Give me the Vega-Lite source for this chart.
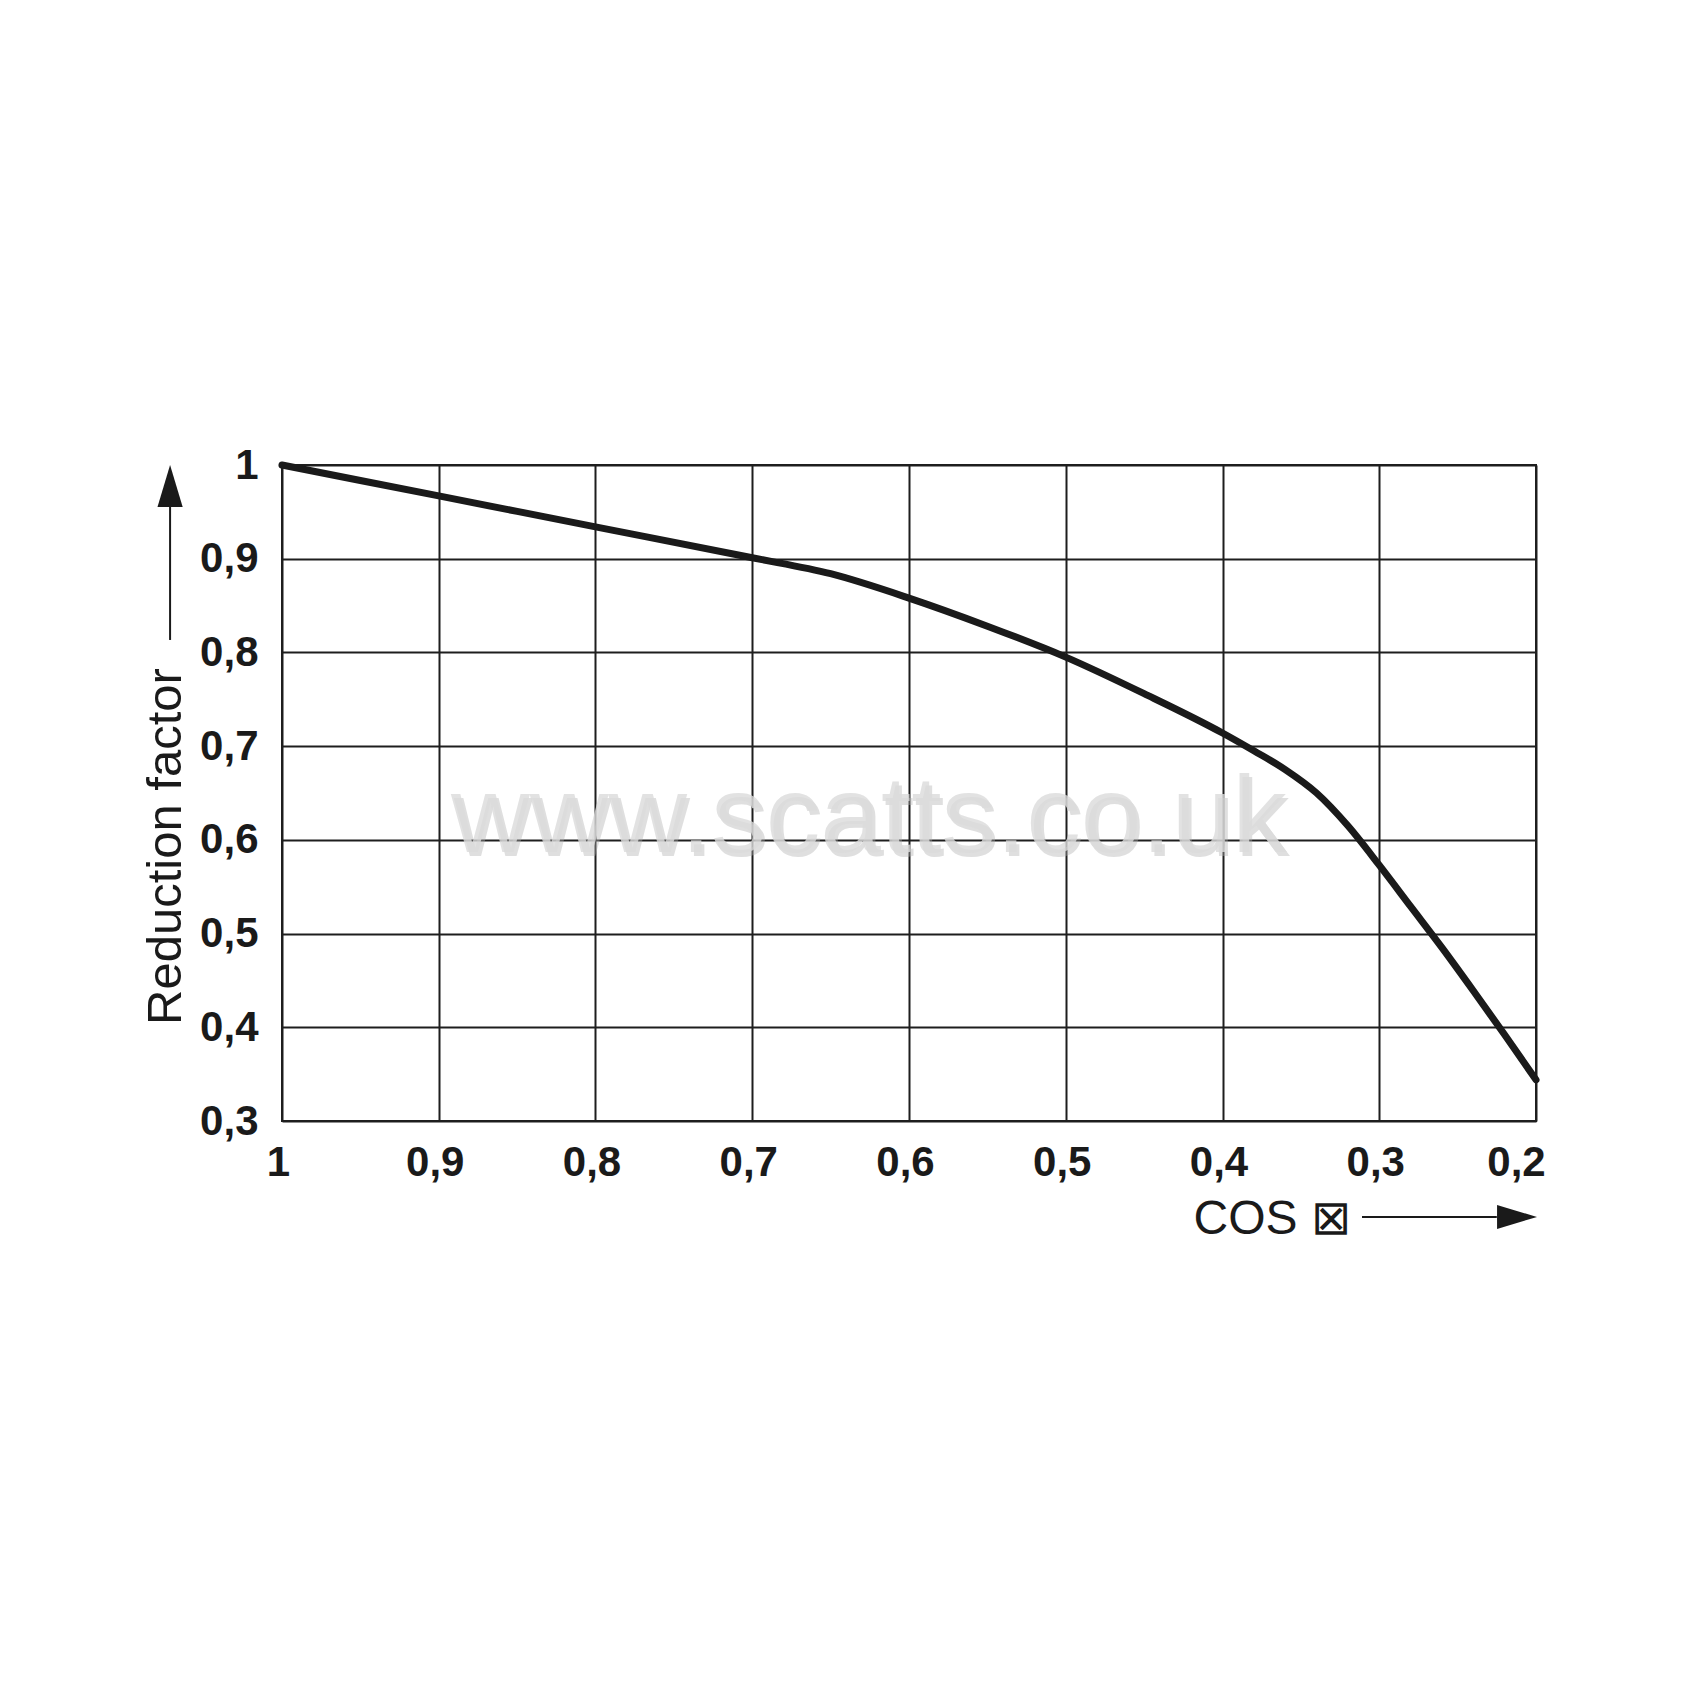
{
  "$schema": "https://vega.github.io/schema/vega-lite/v6.json",
  "autosize": {"type": "none"},
  "width": 1254,
  "height": 656,
  "padding": {"left": 282, "top": 465, "right": 154, "bottom": 569},
  "background": "white",
  "config": {
    "view": {"stroke": "#1e1e1e", "strokeWidth": 2},
    "font": "Liberation Sans"
  },
  "datasets": {
    "curve": [
      {"cos": 1.0, "factor": 1.0},
      {"cos": 0.9, "factor": 0.967},
      {"cos": 0.8, "factor": 0.934},
      {"cos": 0.7, "factor": 0.901},
      {"cos": 0.65, "factor": 0.884},
      {"cos": 0.6, "factor": 0.858},
      {"cos": 0.55, "factor": 0.828},
      {"cos": 0.5, "factor": 0.795},
      {"cos": 0.45, "factor": 0.756},
      {"cos": 0.4, "factor": 0.714},
      {"cos": 0.38, "factor": 0.695},
      {"cos": 0.36, "factor": 0.675},
      {"cos": 0.34, "factor": 0.65},
      {"cos": 0.32, "factor": 0.615},
      {"cos": 0.3, "factor": 0.573},
      {"cos": 0.28, "factor": 0.529},
      {"cos": 0.26, "factor": 0.485},
      {"cos": 0.24, "factor": 0.439},
      {"cos": 0.22, "factor": 0.392},
      {"cos": 0.2, "factor": 0.344}
    ],
    "watermark": [{"cos": 0.6256, "factor": 0.5874, "label": "www.scatts.co.uk"}],
    "one": [{}]
  },
  "layer": [
    {
      "data": {"name": "watermark"},
      "mark": {"type": "text", "font": "Liberation Sans", "fontSize": 109, "align": "center", "baseline": "alphabetic", "color": "#b0b0b0", "opacity": 0.4, "dx": 3, "dy": 4},
      "encoding": {
        "x": {"field": "cos", "type": "quantitative"},
        "y": {"field": "factor", "type": "quantitative"},
        "text": {"field": "label"}
      }
    },
    {
      "data": {"name": "watermark"},
      "mark": {"type": "text", "font": "Liberation Sans", "fontSize": 109, "align": "center", "baseline": "alphabetic", "color": "#dcdcdc", "opacity": 0.8},
      "encoding": {
        "x": {"field": "cos", "type": "quantitative"},
        "y": {"field": "factor", "type": "quantitative"},
        "text": {"field": "label"}
      }
    },
    {
      "data": {"name": "curve"},
      "mark": {"type": "line", "color": "#1a1a1a", "strokeWidth": 7, "strokeCap": "round", "interpolate": "monotone"},
      "encoding": {
        "x": {
          "field": "cos",
          "type": "quantitative",
          "scale": {"domain": [1, 0.2], "nice": false, "zero": false},
          "axis": {
            "values": [1, 0.9, 0.8, 0.7, 0.6, 0.5, 0.4, 0.3, 0.2],
            "labelExpr": "replace(format(datum.value, '.1~f'), '.', ',')",
            "labelFont": "Liberation Sans",
            "labelFontWeight": "bold",
            "labelFontSize": 42,
            "labelColor": "#1a1a1a",
            "labelPadding": 21,
            "labelOffset": {"condition": {"test": "datum.value < 0.25", "value": -20}, "value": -4},
            "labelFlush": false,
            "labelOverlap": false,
            "ticks": false,
            "domain": false,
            "grid": true,
            "gridColor": "#1e1e1e",
            "gridWidth": 2,
            "gridOpacity": 1,
            "title": "COS ⊠",
            "titleFont": "Liberation Sans",
            "titleFontWeight": "normal",
            "titleFontSize": 48,
            "titleColor": "#1a1a1a",
            "titleAlign": "left",
            "titleBaseline": "alphabetic",
            "titleX": 911,
            "titleY": 112
          }
        },
        "y": {
          "field": "factor",
          "type": "quantitative",
          "scale": {"domain": [0.3, 1], "nice": false, "zero": false},
          "axis": {
            "values": [0.3, 0.4, 0.5, 0.6, 0.7, 0.8, 0.9, 1],
            "labelExpr": "replace(format(datum.value, '.1~f'), '.', ',')",
            "labelFont": "Liberation Sans",
            "labelFontWeight": "bold",
            "labelFontSize": 42,
            "labelColor": "#1a1a1a",
            "labelPadding": 24,
            "labelFlush": false,
            "labelOverlap": false,
            "ticks": false,
            "domain": false,
            "grid": true,
            "gridColor": "#1e1e1e",
            "gridWidth": 2,
            "gridOpacity": 1,
            "title": "Reduction factor",
            "titleFont": "Liberation Sans",
            "titleFontWeight": "normal",
            "titleFontSize": 49,
            "titleColor": "#1a1a1a",
            "titleAngle": -90,
            "titleAlign": "center",
            "titleBaseline": "alphabetic",
            "titleX": -102,
            "titleY": 381
          }
        },
        "order": {"field": "cos", "sort": "descending"}
      }
    },
    {
      "data": {"name": "one"},
      "mark": {"type": "rule", "color": "#1a1a1a", "strokeWidth": 2},
      "encoding": {
        "x": {"datum": 1.0714, "type": "quantitative"},
        "y": {"datum": 0.8133, "type": "quantitative"},
        "y2": {"datum": 0.96}
      }
    },
    {
      "data": {"name": "one"},
      "mark": {"type": "point", "shape": "M0,-1L0.6,1L-0.6,1Z", "size": 1764, "filled": true, "color": "#1a1a1a", "opacity": 1},
      "encoding": {
        "x": {"datum": 1.0714, "type": "quantitative"},
        "y": {"datum": 0.9776, "type": "quantitative"}
      }
    },
    {
      "data": {"name": "one"},
      "mark": {"type": "rule", "color": "#1a1a1a", "strokeWidth": 2},
      "encoding": {
        "x": {"datum": 0.311, "type": "quantitative"},
        "x2": {"datum": 0.225},
        "y": {"datum": 0.1976, "type": "quantitative"}
      }
    },
    {
      "data": {"name": "one"},
      "mark": {"type": "point", "shape": "M-1,-0.6L1,0L-1,0.6Z", "size": 1600, "filled": true, "color": "#1a1a1a", "opacity": 1},
      "encoding": {
        "x": {"datum": 0.2121, "type": "quantitative"},
        "y": {"datum": 0.1976, "type": "quantitative"}
      }
    }
  ]
}
